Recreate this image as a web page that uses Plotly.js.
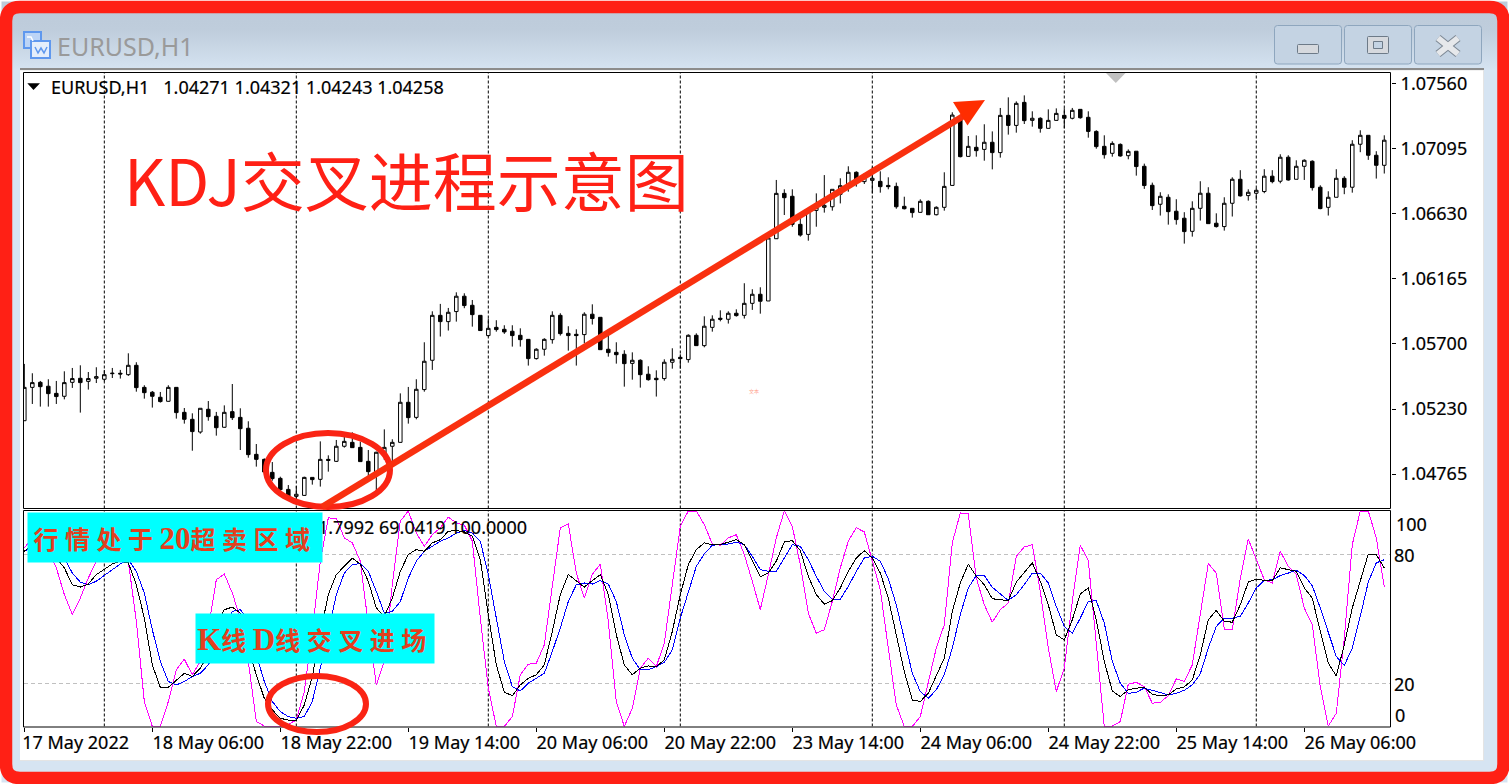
<!DOCTYPE html>
<html><head><meta charset="utf-8">
<script src="https://cdn.plot.ly/plotly-3.0.1.min.js"></script>
<style>
html,body{margin:0;padding:0;width:1509px;height:784px;overflow:hidden;
background:linear-gradient(#bccad9 0,#bfcddc 30px,#d3e1ef 66px,#d6e4f2 70px,#d6e4f2 100%);}
#plot{width:1509px;height:784px;}
.annotation.spaced text{letter-spacing:6.5px;}
.scatterlayer path{shape-rendering:crispEdges;}
.xtick text,.ytick text,.annotation.dark text{stroke:#000;stroke-width:0.2px;}
</style></head><body><div id="plot"></div>
<script>
// Prices are in points (1 point = 0.00001)
const openPts=[105147,105386,105422,105394,105343,105322,105422,105451,105429,105451,105444,105484,105487,105477,105544,105386,105351,105315,105286,105386,105207,105157,105066,105229,105179,105100,105212,105171,105093,104906,104870,104777,104734,104655,104605,104612,104741,104727,104870,104856,104964,104992,104956,104856,104770,104913,104964,104992,105279,105171,
105370,105580,105902,105857,105929,106039,105974,105902,105757,105816,105802,105788,105759,105730,105592,105659,105728,105902,105773,105766,105764,105910,105888,105659,105637,105623,105558,105580,105480,105451,105449,105566,105601,105585,105759,105685,105816,105881,105874,105917,105902,105988,106053,106005,
106451,106776,106755,106554,106482,106654,106676,106680,106769,106831,106927,106860,106869,106862,106833,106826,106683,106669,106640,106719,106623,106676,106833,107302,107041,107106,107091,107142,107068,107335,107263,107428,107299,107314,107242,107299,107335,107314,107378,107321,107220,107113,107063,107127,107046,
107078,106970,106834,106698,106748,106648,106598,106504,106669,106777,106562,106538,106705,106877,106760,106777,106789,106899,106863,107035,106877,106970,107006,106820,106676,106748,106884,106820,107128,107192,107049,106977];
const highPts=[105554,105487,105432,105444,105432,105501,105525,105544,105496,105530,105511,105525,105511,105630,105566,105401,105360,105353,105401,105386,105238,105200,105236,105288,105210,105257,105410,105236,105143,104980,104877,104851,104746,104686,104679,104746,104741,104999,104899,105009,105033,105064,104997,104937,104925,105085,105014,105343,105389,105444,
105709,105931,105984,105955,106067,106060,106012,105902,105879,105867,105831,105831,105809,105730,105666,105738,105931,105917,105824,105802,105924,105981,105888,105773,105709,105652,105637,105587,105537,105508,105587,105666,105623,105766,105773,105895,105902,105938,105931,105945,106132,106089,106103,106485,
106872,106805,106805,106597,106657,106776,106907,106805,106884,106970,106934,106919,106967,106934,106891,106853,106752,106669,106733,106726,106683,106927,107357,107326,107187,107192,107271,107220,107388,107464,107435,107478,107364,107321,107378,107385,107385,107388,107378,107364,107228,107192,107149,107134,107091,
107078,106989,106853,106784,106769,106734,106641,106719,106863,106820,106633,106748,106891,106942,106805,106813,106949,106942,107056,107049,107013,107020,107013,106834,106791,106949,106899,107157,107228,107192,107078,107192];
const lowPts=[105147,105267,105248,105248,105267,105300,105382,105205,105370,105417,105429,105453,105449,105468,105355,105305,105241,105277,105284,105162,105126,104932,105054,105147,105040,105097,105152,104937,104882,104818,104770,104717,104639,104598,104543,104608,104689,104675,104782,104851,104954,104954,104854,104746,104646,104866,104842,104990,105126,105157,
105355,105511,105750,105793,105857,105953,105821,105793,105750,105785,105769,105678,105678,105542,105585,105613,105699,105757,105649,105542,105702,105836,105656,105606,105556,105391,105441,105384,105434,105320,105434,105520,105520,105563,105685,105673,105785,105859,105843,105893,105879,105941,105914,106005,
106449,106621,106537,106466,106437,106537,106638,106652,106704,106788,106824,106843,106776,106781,106805,106666,106661,106602,106638,106623,106618,106652,106831,107034,107039,107039,107010,106948,107032,107197,107211,107273,107254,107211,107240,107297,107242,107306,107311,107175,107096,107025,107039,107039,107020,
106903,106808,106657,106617,106552,106552,106416,106466,106581,106559,106531,106509,106610,106753,106724,106729,106777,106848,106848,106867,106877,106872,106796,106662,106617,106748,106770,106781,107071,107016,106882,106918];
const closePts=[105386,105420,105391,105341,105320,105420,105449,105420,105449,105463,105477,105487,105482,105544,105384,105348,105322,105284,105386,105205,105157,105069,105236,105176,105097,105207,105169,105090,104904,104870,104780,104732,104653,104608,104620,104741,104725,104870,104863,104964,104999,104954,104854,104782,104921,104956,104992,105279,105169,105372,
105573,105902,105857,105924,106039,105972,105907,105793,105809,105800,105783,105757,105728,105592,105659,105730,105902,105771,105757,105757,105910,105879,105656,105635,105620,105556,105580,105477,105441,105441,105566,105587,105592,105759,105685,105824,105874,105874,105917,105900,105988,106053,106003,106456,
106776,106745,106554,106477,106652,106676,106690,106805,106831,106927,106860,106903,106884,106824,106824,106680,106666,106638,106719,106623,106676,106826,107337,107039,107113,107082,107142,107068,107335,107263,107421,107297,107314,107242,107299,107349,107314,107371,107318,107220,107111,107053,107134,107044,107077,
106968,106832,106688,106755,106645,106588,106502,106669,106777,106559,106538,106705,106877,106758,106784,106798,106899,106860,107035,106872,106970,107013,106817,106667,106748,106884,106820,107128,107192,107049,106977,107157];
const kLine=[81.3,84.4,87.5,84.4,78.2,73.6,65.8,64.7,66.1,70.5,72.8,75.4,76.7,75.9,65.8,50.3,28.6,18.2,18.2,21.6,24.7,23.2,27.1,33.3,47.2,54.2,55.4,52.6,36.4,24,13.1,7.7,3.8,3,3,10,23.2,43.3,61.2,70.5,74.3,78.2,75.4,67.4,55,51.1,59.6,72,79.8,82.1,
81.3,85.2,86.7,90.6,90.9,90.3,88.3,77.4,51.9,28.6,15.9,14.3,19.3,22.4,24,28.6,44.1,61.2,70.5,67.4,64.7,67.7,70.5,61.2,42.5,28.6,24,27.1,28.1,27.8,30.9,44.1,61.2,75.1,82.1,85.2,84.4,84.4,85.6,86.7,84.4,76.7,69.4,71.2,76.7,85.6,86.3,81.6,69.7,
61.2,56.8,58.4,64.3,72,78.2,81.6,78.2,71.2,59.6,42.5,25.5,12.3,11.6,15.4,23.2,31.7,53.4,66.6,75.4,69.7,65.8,59.3,58.8,58.5,67,71.2,75.9,67.4,56.5,42.5,40.2,49.5,61.5,64.3,49.5,30.2,16.5,13.9,17,17.8,18.1,15,14.2,14.7,17.4,18.4,21.6,33.3,49.5,53.9,48.8,48.4,56.5,67,68.4,67.8,67.7,73.6,72.8,72,64.3,59.6,44.1,29.4,23.5,37.9,55,68.1,80,79.8,73.6];
const dLine=[81.3,83.6,85.2,84.4,81.3,78.2,71.2,67,65.8,67.4,70.1,72.8,75.4,77.4,72,61.9,44.9,30.2,20.9,19.3,20.9,23.2,24.7,28.6,35.6,45.7,53.4,54.2,49.5,33.3,20.9,11.6,6.9,4.6,3.8,4.6,11.6,27.1,44.1,61.2,71.2,75.1,75.6,72,62.7,52.6,53.4,58,68.9,76.7,
81.3,83.6,86,87.5,89.8,90.9,89.8,86,70.5,50.3,30.2,18.5,16.5,20.1,22.4,24.7,34.8,45.7,58,65.8,66.6,66.1,67.7,66.1,58,42.5,31.7,26.3,26.3,27.8,29.7,35.6,50.3,62.7,74.3,80.1,84.1,84.4,84.7,85.5,84.4,79,72.8,72,72,78.2,84.4,83.6,77.4,
69.7,62.7,59.1,59.1,65,72,78.2,79,76.7,68.6,56.5,40.2,24.7,16.2,13.1,17,24,36.4,51.9,64.3,70.1,70.1,64.6,61.5,58.5,61.2,65.8,71.2,71.2,66.6,55.7,46.4,43.3,50.3,58,58.4,48,30.2,20.1,15.4,15.9,17.8,16.7,15.9,14.7,15.4,16.8,19.3,24.4,36.4,46.4,50.3,50.3,51.1,57.3,64.3,67.8,68.1,70,71.2,72.5,70.1,65.3,55,43.3,32.5,28.3,36.4,51.1,67,75.9,77.4];
const jLine=[82.9,87.5,89,81.3,73.6,61.2,51.9,59.6,68.9,76.7,82.9,87.5,87.5,76.7,48.8,11.6,0,0,11.6,26.3,31.2,24,30.2,45.7,68.1,70.8,61.9,50.3,30.2,2.3,0.2,0,0,1,3,16.2,44.1,76.7,96.8,96.5,87.5,85.2,76.7,47.2,19.3,30.2,65.8,95.3,100,89.8,
83.6,89,92.2,97.1,94.5,93.4,86,50.3,17.8,0,0,4.6,24,28.9,29.4,37.9,65.8,92.2,94,71.2,59.6,70.5,75.4,48.8,11.6,0,8.5,27.1,31.7,27.8,38.7,65,92.9,100,100,93.7,84.7,84.1,87.5,89,79.8,67.4,54.2,70.5,87.5,100,92.9,75.1,52.6,
43.3,44.9,58,73.6,86,92.2,90.3,76.7,63.5,36.4,10,0,0,4.6,20.9,36.4,47.2,85.2,99.1,98.7,68.9,56.5,48.4,54.2,57.3,79,83.3,84.4,62.7,36.4,16.2,27.1,58,84.1,77,39.5,0,0.2,2.3,19.6,20.5,18.5,10.8,11.2,14.3,22.1,20.9,28.6,52.6,75.6,71.2,45.2,44.9,68.6,87,77.4,68.1,66.6,81.3,74.3,70.5,55,47.2,18.5,0.2,6.1,41,84.4,100,100,87.5,64.7];
const dateTickBars=[0,16,32,48,64,80,96,112,128,144,160];
const dateTickLabels=["17 May 2022\u00a0\u00a0","18 May 06:00","18 May 22:00","19 May 14:00","20 May 06:00","20 May 22:00","23 May 14:00","24 May 06:00","24 May 22:00","25 May 14:00","26 May 06:00"];
const periodBars=[10,34,58,82,106,130,154];
const priceTicks=[1.07560,1.07095,1.06630,1.06165,1.05700,1.05230,1.04765];
const priceTickLabels=["1.07560","1.07095","1.06630","1.06165","1.05700","1.05230","1.04765"];
const stochLevels=[80,20];

const W=1509,H=784;
const X=p=>p/W, Y=p=>1-p/H;
const barIdx=openPts.map((_,i)=>i);
const pr=a=>a.map(v=>v/1e5);
const FONT='"Noto Sans",sans-serif', CJK='"Noto Sans CJK SC",sans-serif';
const priceRange=[1.04518,1.07642];

const rectP=(x0,y0,x1,y1,o)=>Object.assign({type:'rect',xref:'paper',yref:'paper',x0:X(x0),x1:X(x1),y0:Y(y1),y1:Y(y0),line:{width:0},layer:'below'},o||{});
const pathP=(pts,o)=>Object.assign({type:'path',xref:'paper',yref:'paper',
  path:pts.map((p,i)=>(i?'L':'M')+X(p[0])+' '+Y(p[1])).join(' '),layer:'above',line:{width:0}},o||{});
function rounded(x0,y0,x1,y1,r,o){
  const q=(c,e)=>'Q'+X(c[0])+' '+Y(c[1])+' '+X(e[0])+' '+Y(e[1]);
  const l=p=>'L'+X(p[0])+' '+Y(p[1]);
  const path='M'+X(x0+r)+' '+Y(y0)+l([x1-r,y0])+q([x1,y0],[x1,y0+r])+l([x1,y1-r])+q([x1,y1],[x1-r,y1])+l([x0+r,y1])+q([x0,y1],[x0,y1-r])+l([x0,y0+r])+q([x0,y0],[x0+r,y0])+'Z';
  return Object.assign({type:'path',xref:'paper',yref:'paper',path,layer:'below',line:{width:0}},o||{});
}
const ell=(cx,cy,rx,ry,w,c)=>({type:'circle',xref:'paper',yref:'paper',x0:X(cx-rx),x1:X(cx+rx),y0:Y(cy+ry),y1:Y(cy-ry),line:{color:c,width:w},layer:'above'});

const RED='#ff2015';
const shapes=[
  rectP(20,69,1484,761,{fillcolor:'#e4e4e4'}),
  rectP(20,70.5,1483,760,{fillcolor:'#ffffff'}),
  rectP(20,68,1484,70,{fillcolor:'#8c8c8c'}),
  // window icon
  rectP(24,32,41,48,{fillcolor:'#bcd4f6',line:{color:'#5f98ee',width:2},layer:'above'}),
  rectP(31,41,50,58,{fillcolor:'#e4eefb',line:{color:'#5f98ee',width:2},layer:'above'}),
  pathP([[35,47],[38,53],[41,48],[44,53],[47,47]],{line:{color:'#5f98ee',width:1.5}}),
  pathP([[27,37],[31,37],[33,41]],{line:{color:'#ffffff',width:1.5}}),
  // window buttons
  rounded(1274.5,25.5,1341.5,64,3,{fillcolor:'#c4d3e3',line:{color:'#8ea6be',width:1}}),
  rounded(1344.5,25.5,1411.5,64,3,{fillcolor:'#c4d3e3',line:{color:'#8ea6be',width:1}}),
  rounded(1414.5,25.5,1481.5,64,3,{fillcolor:'#c4d3e3',line:{color:'#8ea6be',width:1}}),
  rounded(1297.5,44.5,1318.5,53.5,1,{fillcolor:'#d6d9de',line:{color:'#6d7a88',width:1}}),
  rounded(1367.5,36.5,1388.5,53.5,1,{fillcolor:'#d6d9de',line:{color:'#6d7a88',width:1}}),
  rectP(1373.5,41.5,1382.5,48.5,{fillcolor:'#c4d3e3',line:{color:'#6d7a88',width:1},layer:'above'}),
  pathP([[1438,38],[1458,54]],{line:{color:'#7c8793',width:8}}),
  pathP([[1458,38],[1438,54]],{line:{color:'#7c8793',width:8}}),
  pathP([[1438,38],[1458,54]],{line:{color:'#e6e8eb',width:6}}),
  pathP([[1458,38],[1438,54]],{line:{color:'#e6e8eb',width:6}}),
  // header marker and chart-shift marker
  pathP([[27.3,83.3],[40,83.3],[33.5,90],[27.3,83.3]],{fillcolor:'#000000'}),
  pathP([[1106,73],[1125.5,73],[1115.8,83],[1106,73]],{fillcolor:'#c0c0c0'}),
  // panel frames
  rectP(23.5,72.5,1390.5,508.5,{line:{color:'#000000',width:1},layer:'above'}),
  rectP(23.5,510.5,1390.5,727,{line:{color:'#000000',width:1},layer:'above'}),
  // red drawings
  ell(328,470,62,37,6,'#fa2414'),
  ell(317,704,49,28,6,'#fa2414'),
  pathP([[322,507],[970,112]],{line:{color:'#f9300f',width:6.5}}),
  pathP([[953,102],[985,100],[967.5,125.5],[953,102]],{fillcolor:'#ff2d00'}),
  // outer red border
  rectP(-1,-1,1510,785,{line:{color:'#ffffff',width:5},layer:'above'}),
  rounded(6,7,1503.5,778,14,{line:{color:RED,width:12.5},layer:'above'})
];
periodBars.forEach(b=>{
  shapes.push({type:'line',xref:'x',yref:'y',x0:b,x1:b,y0:priceRange[0],y1:priceRange[1],line:{color:'#000',width:1,dash:'3px,2px'},layer:'below'});
  shapes.push({type:'line',xref:'x',yref:'y2',x0:b,x1:b,y0:0,y1:100,line:{color:'#000',width:1,dash:'3px,2px'},layer:'below'});
});

const lat=t=>'<span style="font-family:\'Liberation Serif\',serif;font-size:31px;letter-spacing:0">'+t+'</span>';
const annBase={showarrow:false,xref:'paper',yref:'paper',borderpad:0};
const blackLabel=(x,y,shift,text)=>Object.assign({},annBase,{x:X(x),xanchor:'left',yanchor:'middle',yref:'y2',y,yshift:shift,text,font:{family:FONT,size:18,color:'#000'}});
const annotations=[
  Object.assign({},annBase,{x:X(56),y:Y(46),xanchor:'left',yanchor:'middle',text:'EURUSD,H1',font:{family:FONT,size:25,color:'#9a9a9a'}}),
  Object.assign({},annBase,{x:X(50),y:Y(87),xanchor:'left',yanchor:'middle',text:'EURUSD,H1&nbsp;&nbsp;&nbsp;1.04271 1.04321 1.04243 1.04258',font:{family:FONT,size:18,color:'#000'}}),
  Object.assign({},annBase,{x:X(317),y:Y(527),xanchor:'left',yanchor:'middle',text:'1.7992 69.0419 100.0000',font:{family:FONT,size:18,color:'#000'}}),
  Object.assign({},annBase,{x:X(123),y:Y(178.5),xanchor:'left',yanchor:'middle',text:'KDJ交叉进程示意图',font:{family:CJK,size:64,color:RED}}),
  Object.assign({},annBase,{x:X(27),y:Y(537.5),xanchor:'left',yanchor:'middle',width:294,height:49,bgcolor:'#00ffff',text:'<b>行情处于'+lat('20')+'超卖区域</b>',font:{family:CJK,size:25,color:'#e2401e'}}),
  Object.assign({},annBase,{x:X(195),y:Y(638.5),xanchor:'left',yanchor:'middle',width:238,height:49,bgcolor:'#00ffff',text:'<b>'+lat('K')+'线'+lat('D')+'线交叉进场</b>',font:{family:CJK,size:25,color:'#e2401e'}}),
  Object.assign({},annBase,{x:X(754),y:Y(391),xanchor:'center',yanchor:'middle',text:'文本',font:{family:CJK,size:5,color:'#ffa590'}}),
  blackLabel(1395,100,-13,'100'),
  blackLabel(1393,stochLevels[0],-1,String(stochLevels[0])),
  blackLabel(1393,stochLevels[1],-1,String(stochLevels[1])),
  blackLabel(1394,0,11.5,'0')
];

const traces=[
 {type:'candlestick',x:barIdx,open:pr(openPts),high:pr(highPts),low:pr(lowPts),close:pr(closePts),xaxis:'x',yaxis:'y',whiskerwidth:0,
  increasing:{line:{color:'#000',width:1},fillcolor:'#ffffff'},decreasing:{line:{color:'#000',width:1},fillcolor:'#000000'},hoverinfo:'skip'},
 {type:'scatter',mode:'lines',x:barIdx,y:jLine,xaxis:'x',yaxis:'y2',line:{color:'#ff00ff',width:1},hoverinfo:'skip'},
 {type:'scatter',mode:'lines',x:barIdx,y:dLine,xaxis:'x',yaxis:'y2',line:{color:'#0000ff',width:1},hoverinfo:'skip'},
 {type:'scatter',mode:'lines',x:barIdx,y:kLine,xaxis:'x',yaxis:'y2',line:{color:'#000000',width:1},hoverinfo:'skip'}
];
const layout={
 width:W,height:H,margin:{l:0,r:0,t:0,b:0},paper_bgcolor:'rgba(0,0,0,0)',plot_bgcolor:'#ffffff',showlegend:false,boxgap:0.375,
 xaxis:{domain:[X(24),X(1391)],range:[-0.04,170.84],anchor:'y2',rangeslider:{visible:false},tickmode:'array',tickvals:dateTickBars,ticktext:dateTickLabels,
   ticks:'outside',ticklen:4,tickcolor:'#000',tickangle:0,ticklabelshift:56,ticklabelstandoff:-4,tickfont:{family:FONT,size:18,color:'#000'},showgrid:false,zeroline:false,showline:false,fixedrange:true},
 yaxis:{domain:[Y(508.5),Y(72.5)],range:priceRange,side:'right',anchor:'x',tickmode:'array',tickvals:priceTicks,ticktext:priceTickLabels,ticks:'outside',ticklen:4,tickcolor:'#000',
   ticklabelstandoff:1,tickfont:{family:FONT,size:18,color:'#000'},showgrid:false,zeroline:false,showline:false,fixedrange:true},
 yaxis2:{domain:[Y(726.5),Y(511)],range:[0,100],side:'right',anchor:'x',tickmode:'array',tickvals:stochLevels,showticklabels:false,ticks:'',
   showgrid:true,gridcolor:'#c0c0c0',griddash:'4px,3px',gridwidth:1,zeroline:false,showline:false,fixedrange:true},
 shapes,annotations
};
Plotly.newPlot('plot',traces,layout,{displayModeBar:false,staticPlot:true}).then(()=>{
  document.querySelectorAll('.annotation').forEach(g=>{
    const t=g.textContent;
    if(t.startsWith('行情')||t.startsWith('K线')) g.classList.add('spaced');
    if(t.startsWith('1.7992')||t.startsWith('EURUSD,H1\u00a0')||/^(100|80|20|0)$/.test(t)) g.classList.add('dark');
  });
});
</script></body></html>
